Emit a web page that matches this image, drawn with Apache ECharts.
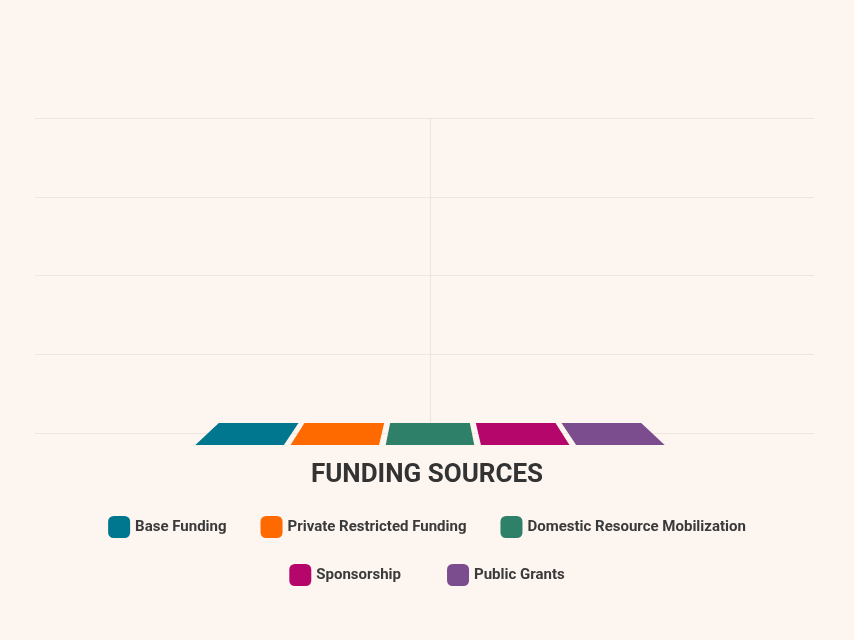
<!DOCTYPE html>
<html><head><meta charset="utf-8">
<script src="https://cdn.jsdelivr.net/npm/echarts@6/dist/echarts.min.js"></script>
<style>html,body{margin:0;padding:0;background:#fdf5f0}#c{width:854px;height:640px}</style>
</head><body><div id="c"></div>
<script>
const categories = ['Base Funding','Private Restricted Funding','Domestic Resource Mobilization','Sponsorship','Public Grants'];
const values = [0,0,0,0,0];
const colors = ['#00778f','#ff6a00','#2e8068','#b5076b','#7b4d8e'];
const chart = echarts.init(document.getElementById('c'));
const series = categories.map((name,i)=>({
  name, type:'custom', xAxisIndex:1, yAxisIndex:1, z:5,
  data:[[i, values[i]]],
  itemStyle:{color:colors[i]},
  renderItem:(params, api)=>{
    const p = api.coord([api.value(0), api.value(1)]);
    const cx = 430, hw = api.size([1,0])[0]*0.465, f = 0.9;
    const bx1 = p[0]-hw, bx2 = p[0]+hw;
    const tl = cx+(bx1-cx)*f, tr = cx+(bx2-cx)*f;
    const top = p[1]-10, bot = p[1]+12;
    return {type:'polygon', shape:{points:[[bx1,bot],[bx2,bot],[tr,top],[tl,top]]},
      style:api.style({fill:colors[i]})};
  }
}));
series.push({type:'line', xAxisIndex:1, yAxisIndex:1, data:[], silent:true, z:1,
  markLine:{symbol:'none', silent:true, label:{show:false}, lineStyle:{color:'#eee3dd', type:'solid', width:1},
    data:[[{coord:[2,4]},{coord:[2,0]}]]}});
const lt = {fontFamily:'Roboto', fontSize:15, fontWeight:'bold', color:'#3a3a3a'};
chart.setOption({
  backgroundColor:'#fdf5f0',
  title:{text:'FUNDING SOURCES', left:'center', top:457, textStyle:{fontFamily:'Roboto', fontWeight:'bold', fontSize:26, color:'#333'}},
  grid:[{left:35,right:40,top:118,bottom:207},{left:192,right:186,top:118,bottom:207}],
  xAxis:[{gridIndex:0,type:'value',min:0,max:1,show:false},
         {gridIndex:1,type:'category',data:categories,show:false}],
  yAxis:[{gridIndex:0,type:'value',min:0,max:4,interval:1,axisLabel:{show:false},axisLine:{show:false},axisTick:{show:false},splitLine:{lineStyle:{color:'#efe5df'}}},
         {gridIndex:1,type:'value',min:0,max:4,interval:1,show:false}],
  legend:[
    {data:categories.slice(0,3), top:511, left:'center', itemGap:34, itemWidth:22, itemHeight:22, icon:'roundRect', textStyle:lt},
    {data:categories.slice(3), top:559, left:'center', itemGap:46, itemWidth:22, itemHeight:22, icon:'roundRect', textStyle:lt}
  ],
  series
});
</script></body></html>
